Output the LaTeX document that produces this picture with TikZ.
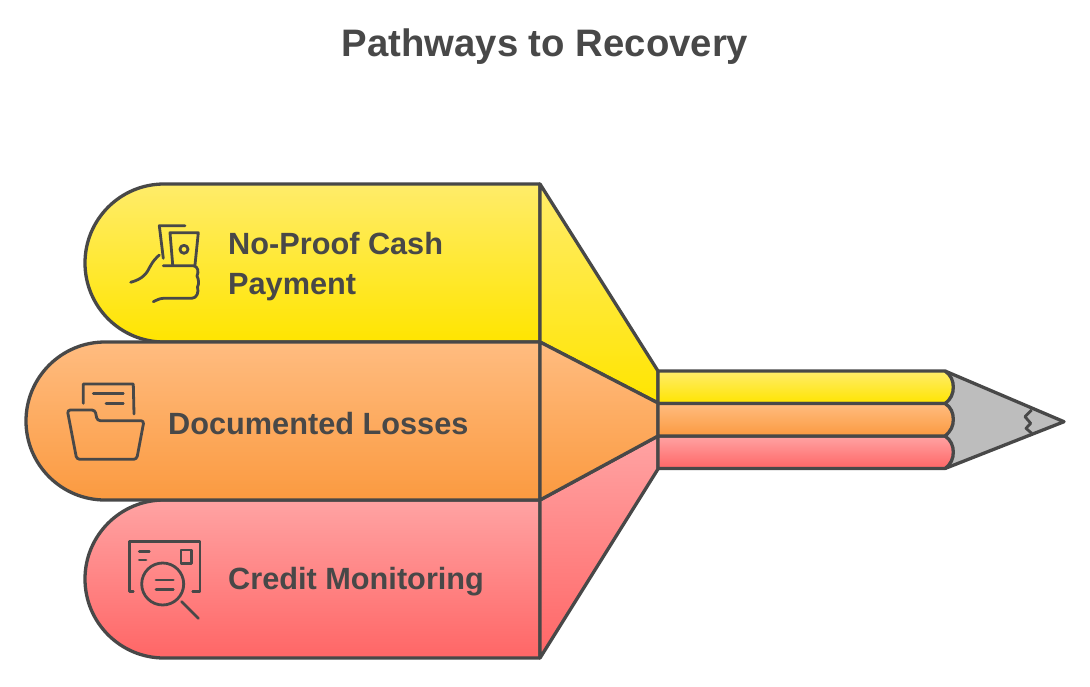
\documentclass[tikz,border=0pt]{standalone}
\usepackage{fontspec}
\setmainfont{Liberation Sans}
\definecolor{inkgray}{HTML}{484848}
\definecolor{leadgray}{HTML}{BDBDBD}
\definecolor{yellowtop}{HTML}{FFEC6A}
\definecolor{yellowlow}{HTML}{FFE500}
\definecolor{orangetop}{HTML}{FFBC80}
\definecolor{orangelow}{HTML}{FB9A40}
\definecolor{redtop}{HTML}{FFA3A3}
\definecolor{redlow}{HTML}{FF6666}
\tikzset{
  outline/.style={draw=inkgray, line width=3.3pt, line join=round},
  yellowfill/.style={outline, top color=yellowtop, bottom color=yellowlow},
  orangefill/.style={outline, top color=orangetop, bottom color=orangelow},
  redfill/.style={outline, top color=redtop, bottom color=redlow},
  iconline/.style={draw=inkgray, line width=2.8pt, line cap=round, line join=round},
  labeltext/.style={anchor=west, inner sep=0pt, text=inkgray, align=left, font=\bfseries\fontsize{30.7}{40}\selectfont},
}
\begin{document}
\begin{tikzpicture}[x=1pt,y=-1pt]
    \useasboundingbox (0,0) rectangle (1090,686);
    \node [anchor=center, inner sep=0pt, text=inkgray, font=\bfseries\fontsize{38.3}{44}\selectfont] (TT) at (545,47) {Pathways to Recovery};

    % pencil tip
    \fill [leadgray] (945,371) -- (1064,421.7) -- (945,468.5) -- cycle;
    \draw [outline] (945,371) -- (1064,421.7) -- (945,468.5);
    \draw [outline, line width=2.8pt] (1031.7,410) -- (1025,416.7) -- (1030.7,423.3) -- (1026,428.3) -- (1031.7,433.3);

    % bands
    \shade [yellowfill] (540,184) [rounded corners=79pt] -- (85,184) -- (85,342) [sharp corners] -- (540,342) -- cycle;
    \shade [yellowfill] (540,184) -- (658,371) -- (658,403) -- (540,342) -- cycle;
    \shade [yellowfill] (658,371) -- (945,371) .. controls (951,375) and (953.3,381) .. (953.3,387) .. controls (953.3,394) and (951,399) .. (945,403.5) -- (658,403.5) -- cycle;

    \shade [redfill] (540,500) [rounded corners=79pt] -- (85,500) -- (85,658) [sharp corners] -- (540,658) -- cycle;
    \shade [redfill] (540,500) -- (658,436) -- (658,469) -- (540,658) -- cycle;
    \shade [redfill] (658,436) -- (945,436) .. controls (951,440) and (953.3,446) .. (953.3,452) .. controls (953.3,459) and (951,464) .. (945,468.5) -- (658,468.5) -- cycle;

    \shade [orangefill] (540,342) [rounded corners=79pt] -- (26,342) -- (26,500) [sharp corners] -- (540,500) -- cycle;
    \shade [orangefill] (540,342) -- (658,403) -- (658,436) -- (540,500) -- cycle;
    \shade [orangefill] (658,403.5) -- (945,403.5) .. controls (951,407) and (953.3,413) .. (953.3,419.5) .. controls (953.3,426) and (951,431) .. (945,436) -- (658,436) -- cycle;

    \node [labeltext] (LA) at (228,267) {No-Proof Cash\\Payment};
    \node [labeltext] (LB) at (168,424) {Documented Losses};
    \node [labeltext] (LC) at (228,582) {Credit Monitoring};

    % cash icon
    \draw [iconline] (185,225.7) -- (159.3,225.7) -- (163.3,258.3);
    \draw [iconline] (172.7,265) -- (170,232.7) -- (198.3,232.7) -- (195,265);
    \draw [iconline] (184,249.3) circle [radius=4];
    \draw [iconline] (130.7,282.3) .. controls (143,279) and (147,273) .. (150,266.7) .. controls (153,261) and (156,258) .. (159.3,255);
    \draw [iconline] (163.3,265.7) -- (193.3,265.7) .. controls (198,266) and (199,272) .. (197,276) .. controls (199,280) and (199,284) .. (197.5,287) .. controls (199,292) and (197,298.3) .. (191.7,298.3) -- (163.3,298.3) .. controls (159,298.5) and (156,300.5) .. (153.3,301.7);

    % folder icon
    \draw [iconline] (83.3,403.3) -- (83.3,384) -- (133.3,384) -- (134,414);
    \draw [iconline] (93.3,393.3) -- (123.3,393.3);
    \draw [iconline] (106,403.3) -- (123.3,403.3);
    \draw [iconline, rounded corners=3pt] (67.3,410) -- (95,410) -- (97.3,420.7) -- (144,420.7) -- (136.7,459.3) -- (76.7,459.3) -- cycle;

    % monitoring icon
    \draw [iconline] (133.3,591.7) -- (129.3,591.7) -- (129.3,541.7) -- (200,541.7) -- (200,591.7) -- (192.7,591.7);
    \draw [iconline] (139.3,551.7) -- (149.3,551.7);
    \draw [iconline] (139.3,560) -- (146,560);
    \draw [iconline] (181,550) rectangle (191.7,563.3);
    \draw [iconline] (162.7,584) circle [radius=21];
    \draw [iconline] (156,580) -- (173.3,580);
    \draw [iconline] (156,589.3) -- (173.3,589.3);
    \draw [iconline] (181.7,601.7) -- (198.3,618.3);
\end{tikzpicture}
\end{document}
